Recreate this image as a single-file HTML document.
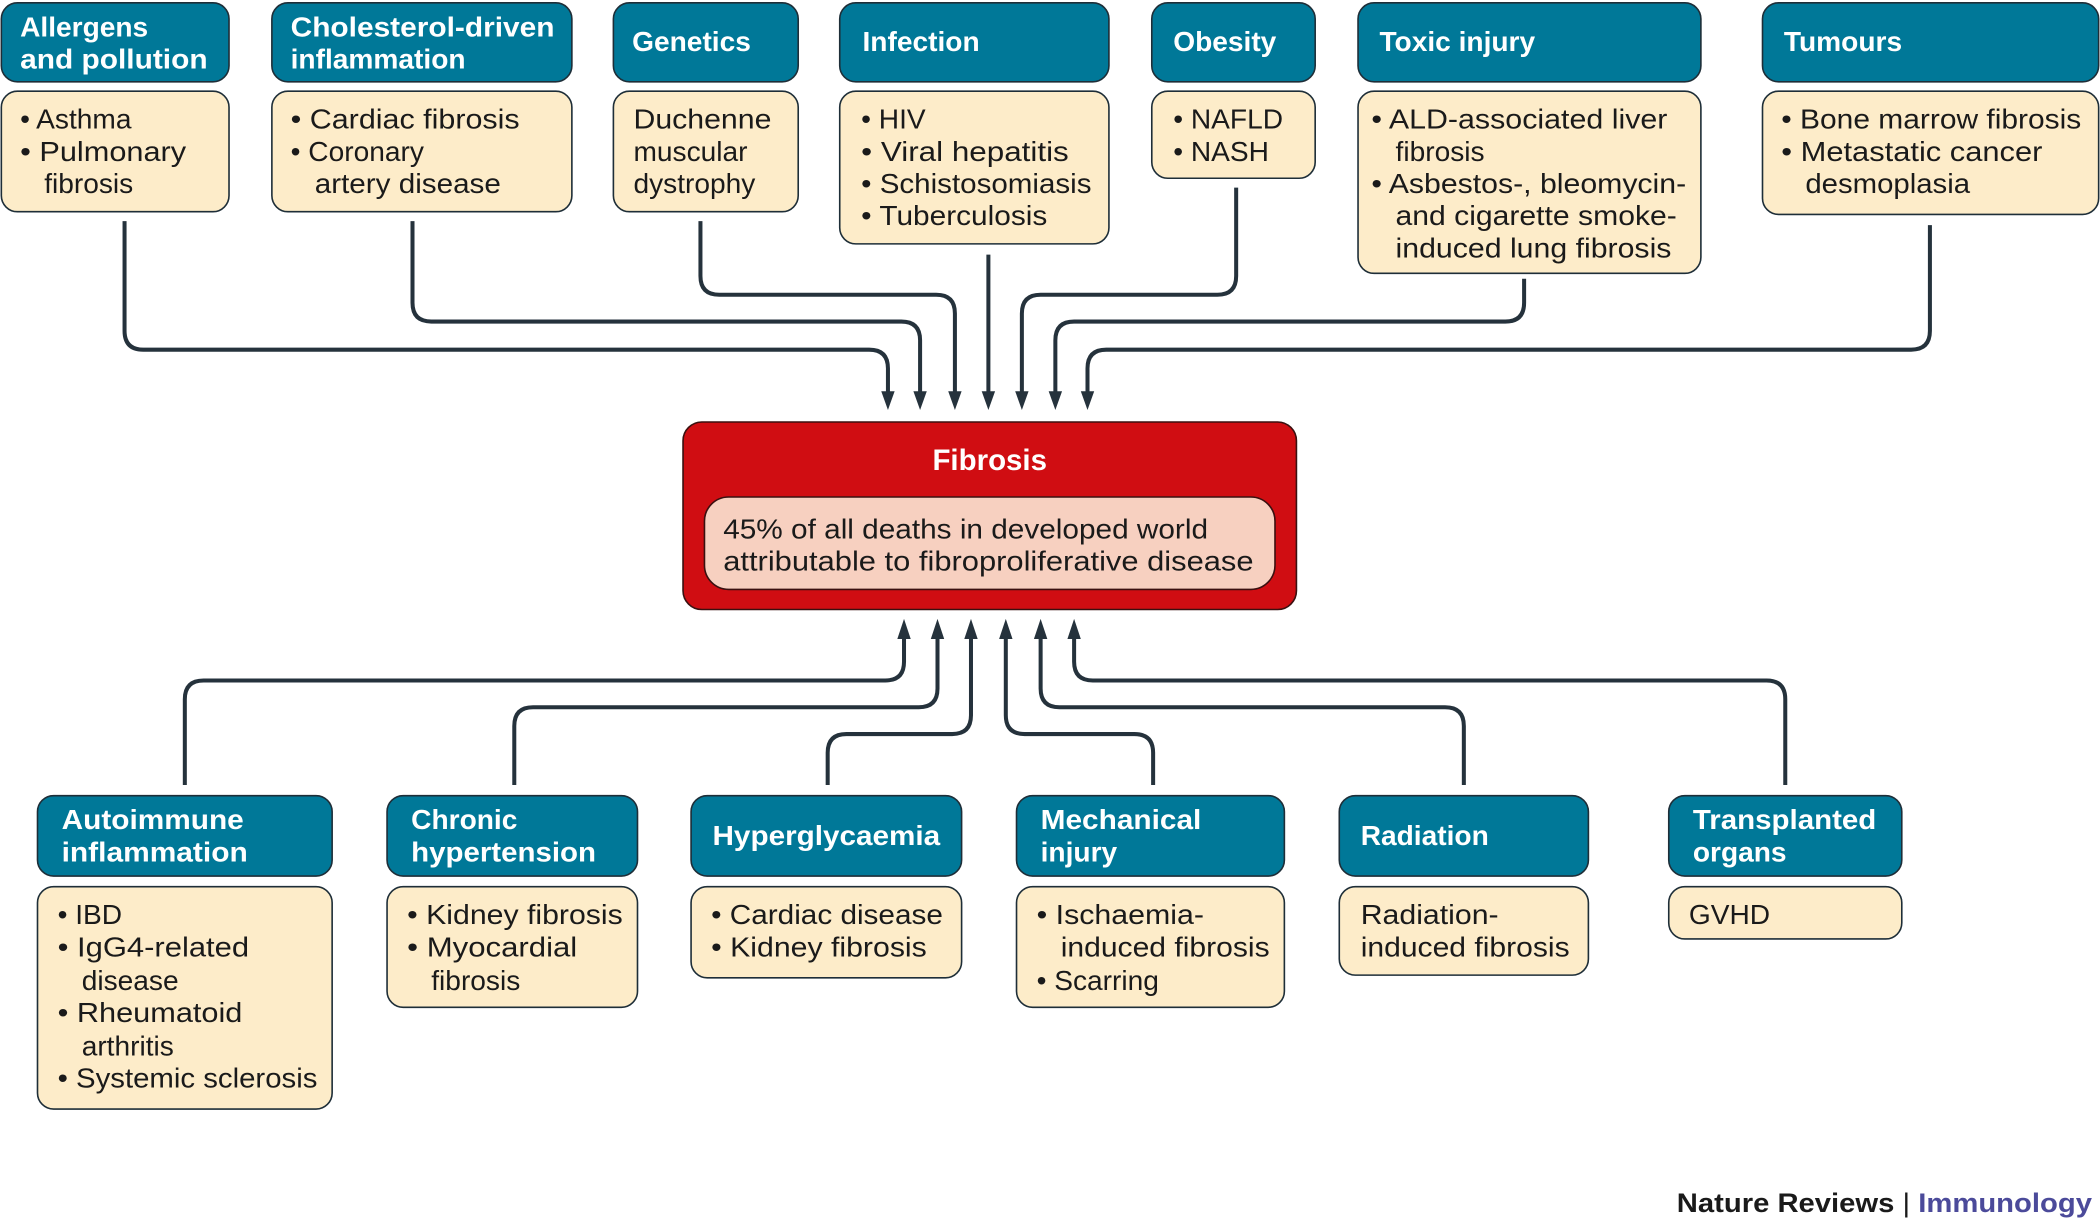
<!DOCTYPE html>
<html><head><meta charset="utf-8"><style>
html,body{margin:0;padding:0;background:#fff;}
svg{display:block;}
.h{font-family:"Liberation Sans",sans-serif;font-weight:bold;font-size:21px;fill:#fff;}
.b{font-family:"Liberation Sans",sans-serif;font-size:21px;fill:#1a1a1a;}
.hd{fill:#007898;stroke:#1e2e38;stroke-width:1.2;}
.bd{fill:#fdecc9;stroke:#1e2e38;stroke-width:1.2;}
.ln{fill:none;stroke:#25323c;stroke-width:3;}
.ar{fill:#25323c;}
</style></head><body>
<svg width="2100" height="1219" viewBox="0 0 1568 910" xmlns="http://www.w3.org/2000/svg">
<path class="ln" d="M93 165 V247 Q93 261 107 261 H649 Q663 261 663 275 V294"/>
<path class="ln" d="M308 165 V226 Q308 240 322 240 H673 Q687 240 687 254 V294"/>
<path class="ln" d="M523 165 V206 Q523 220 537 220 H699 Q713 220 713 234 V294"/>
<path class="ln" d="M738 190 V294"/>
<path class="ln" d="M923 140 V206 Q923 220 909 220 H777 Q763 220 763 234 V294"/>
<path class="ln" d="M1138 208 V226 Q1138 240 1124 240 H802 Q788 240 788 254 V294"/>
<path class="ln" d="M1441 168 V247 Q1441 261 1427 261 H826 Q812 261 812 275 V294"/>
<polygon class="ar" points="658,292 668,292 663,306"/>
<polygon class="ar" points="682,292 692,292 687,306"/>
<polygon class="ar" points="708,292 718,292 713,306"/>
<polygon class="ar" points="733,292 743,292 738,306"/>
<polygon class="ar" points="758,292 768,292 763,306"/>
<polygon class="ar" points="783,292 793,292 788,306"/>
<polygon class="ar" points="807,292 817,292 812,306"/>
<path class="ln" d="M138 586 V522 Q138 508 152 508 H661 Q675 508 675 494 V474"/>
<path class="ln" d="M384 586 V542 Q384 528 398 528 H686 Q700 528 700 514 V474"/>
<path class="ln" d="M618 586 V562 Q618 548 632 548 H711 Q725 548 725 534 V474"/>
<path class="ln" d="M861 586 V562 Q861 548 847 548 H765 Q751 548 751 534 V474"/>
<path class="ln" d="M1093 586 V542 Q1093 528 1079 528 H791 Q777 528 777 514 V474"/>
<path class="ln" d="M1333 586 V522 Q1333 508 1319 508 H816 Q802 508 802 494 V474"/>
<polygon class="ar" points="670,477 680,477 675,462"/>
<polygon class="ar" points="695,477 705,477 700,462"/>
<polygon class="ar" points="720,477 730,477 725,462"/>
<polygon class="ar" points="746,477 756,477 751,462"/>
<polygon class="ar" points="772,477 782,477 777,462"/>
<polygon class="ar" points="797,477 807,477 802,462"/>
<rect x="510" y="315" width="458" height="140" rx="14" fill="#d00d12" stroke="#3a1010" stroke-width="1.2"/>
<text class="h" x="739" y="351" text-anchor="middle" style="font-size:22px">Fibrosis</text>
<rect x="526" y="371" width="426" height="69" rx="18" fill="#f7d0c0" stroke="#3a1010" stroke-width="1.2"/>
<text class="b" x="540" y="402" textLength="362" lengthAdjust="spacingAndGlyphs">45% of all deaths in developed world</text>
<text class="b" x="540" y="426" textLength="396" lengthAdjust="spacingAndGlyphs">attributable to fibroproliferative disease</text>

<rect class="hd" x="1" y="2" width="170" height="59" rx="12"/>
<text class="h" x="15" y="27">Allergens</text>
<text class="h" x="15" y="51" textLength="140" lengthAdjust="spacingAndGlyphs">and pollution</text>
<rect class="bd" x="1" y="68" width="170" height="90" rx="12"/>
<text class="b" x="15" y="96">• Asthma</text>
<text class="b" x="15" y="120" textLength="124" lengthAdjust="spacingAndGlyphs">• Pulmonary</text>
<text class="b" x="33" y="144">fibrosis</text>
<rect class="hd" x="203" y="2" width="224" height="59" rx="12"/>
<text class="h" x="217" y="27" textLength="197" lengthAdjust="spacingAndGlyphs">Cholesterol-driven</text>
<text class="h" x="217" y="51">inflammation</text>
<rect class="bd" x="203" y="68" width="224" height="90" rx="12"/>
<text class="b" x="217" y="96" textLength="171" lengthAdjust="spacingAndGlyphs">• Cardiac fibrosis</text>
<text class="b" x="217" y="120">• Coronary</text>
<text class="b" x="235" y="144" textLength="139" lengthAdjust="spacingAndGlyphs">artery disease</text>
<rect class="hd" x="458" y="2" width="138" height="59" rx="12"/>
<text class="h" x="472" y="38">Genetics</text>
<rect class="bd" x="458" y="68" width="138" height="90" rx="12"/>
<text class="b" x="473" y="96" textLength="103" lengthAdjust="spacingAndGlyphs">Duchenne</text>
<text class="b" x="473" y="120">muscular</text>
<text class="b" x="473" y="144">dystrophy</text>
<rect class="hd" x="627" y="2" width="201" height="59" rx="12"/>
<text class="h" x="644" y="38">Infection</text>
<rect class="bd" x="627" y="68" width="201" height="114" rx="12"/>
<text class="b" x="643" y="96">• HIV</text>
<text class="b" x="643" y="120" textLength="155" lengthAdjust="spacingAndGlyphs">• Viral hepatitis</text>
<text class="b" x="643" y="144" textLength="172" lengthAdjust="spacingAndGlyphs">• Schistosomiasis</text>
<text class="b" x="643" y="168" textLength="139" lengthAdjust="spacingAndGlyphs">• Tuberculosis</text>
<rect class="hd" x="860" y="2" width="122" height="59" rx="12"/>
<text class="h" x="876" y="38">Obesity</text>
<rect class="bd" x="860" y="68" width="122" height="65" rx="12"/>
<text class="b" x="876" y="96">• NAFLD</text>
<text class="b" x="876" y="120">• NASH</text>
<rect class="hd" x="1014" y="2" width="256" height="59" rx="12"/>
<text class="h" x="1030" y="38">Toxic injury</text>
<rect class="bd" x="1014" y="68" width="256" height="136" rx="12"/>
<text class="b" x="1024" y="96" textLength="221" lengthAdjust="spacingAndGlyphs">• ALD-associated liver</text>
<text class="b" x="1042" y="120">fibrosis</text>
<text class="b" x="1024" y="144" textLength="235" lengthAdjust="spacingAndGlyphs">• Asbestos-, bleomycin-</text>
<text class="b" x="1042" y="168" textLength="210" lengthAdjust="spacingAndGlyphs">and cigarette smoke-</text>
<text class="b" x="1042" y="192" textLength="206" lengthAdjust="spacingAndGlyphs">induced lung fibrosis</text>
<rect class="hd" x="1316" y="2" width="251" height="59" rx="12"/>
<text class="h" x="1332" y="38">Tumours</text>
<rect class="bd" x="1316" y="68" width="251" height="92" rx="12"/>
<text class="b" x="1330" y="96" textLength="224" lengthAdjust="spacingAndGlyphs">• Bone marrow fibrosis</text>
<text class="b" x="1330" y="120" textLength="195" lengthAdjust="spacingAndGlyphs">• Metastatic cancer</text>
<text class="b" x="1348" y="144" textLength="123" lengthAdjust="spacingAndGlyphs">desmoplasia</text>

<rect class="hd" x="28" y="594" width="220" height="60" rx="12"/>
<text class="h" x="46" y="619" textLength="136" lengthAdjust="spacingAndGlyphs">Autoimmune</text>
<text class="h" x="46" y="643" textLength="139" lengthAdjust="spacingAndGlyphs">inflammation</text>
<rect class="bd" x="28" y="662" width="220" height="166" rx="12"/>
<text class="b" x="43" y="690">• IBD</text>
<text class="b" x="43" y="714" textLength="143" lengthAdjust="spacingAndGlyphs">• IgG4-related</text>
<text class="b" x="61" y="739">disease</text>
<text class="b" x="43" y="763" textLength="138" lengthAdjust="spacingAndGlyphs">• Rheumatoid</text>
<text class="b" x="61" y="788">arthritis</text>
<text class="b" x="43" y="812" textLength="194" lengthAdjust="spacingAndGlyphs">• Systemic sclerosis</text>
<rect class="hd" x="289" y="594" width="187" height="60" rx="12"/>
<text class="h" x="307" y="619">Chronic</text>
<text class="h" x="307" y="643" textLength="138" lengthAdjust="spacingAndGlyphs">hypertension</text>
<rect class="bd" x="289" y="662" width="187" height="90" rx="12"/>
<text class="b" x="304" y="690" textLength="161" lengthAdjust="spacingAndGlyphs">• Kidney fibrosis</text>
<text class="b" x="304" y="714" textLength="127" lengthAdjust="spacingAndGlyphs">• Myocardial</text>
<text class="b" x="322" y="739">fibrosis</text>
<rect class="hd" x="516" y="594" width="202" height="60" rx="12"/>
<text class="h" x="532" y="631" textLength="170" lengthAdjust="spacingAndGlyphs">Hyperglycaemia</text>
<rect class="bd" x="516" y="662" width="202" height="68" rx="12"/>
<text class="b" x="531" y="690" textLength="173" lengthAdjust="spacingAndGlyphs">• Cardiac disease</text>
<text class="b" x="531" y="714" textLength="161" lengthAdjust="spacingAndGlyphs">• Kidney fibrosis</text>
<rect class="hd" x="759" y="594" width="200" height="60" rx="12"/>
<text class="h" x="777" y="619" textLength="120" lengthAdjust="spacingAndGlyphs">Mechanical</text>
<text class="h" x="777" y="643">injury</text>
<rect class="bd" x="759" y="662" width="200" height="90" rx="12"/>
<text class="b" x="774" y="690" textLength="125" lengthAdjust="spacingAndGlyphs">• Ischaemia-</text>
<text class="b" x="792" y="714" textLength="156" lengthAdjust="spacingAndGlyphs">induced fibrosis</text>
<text class="b" x="774" y="739">• Scarring</text>
<rect class="hd" x="1000" y="594" width="186" height="60" rx="12"/>
<text class="h" x="1016" y="631">Radiation</text>
<rect class="bd" x="1000" y="662" width="186" height="66" rx="12"/>
<text class="b" x="1016" y="690" textLength="103" lengthAdjust="spacingAndGlyphs">Radiation-</text>
<text class="b" x="1016" y="714" textLength="156" lengthAdjust="spacingAndGlyphs">induced fibrosis</text>
<rect class="hd" x="1246" y="594" width="174" height="60" rx="12"/>
<text class="h" x="1264" y="619" textLength="137" lengthAdjust="spacingAndGlyphs">Transplanted</text>
<text class="h" x="1264" y="643">organs</text>
<rect class="bd" x="1246" y="662" width="174" height="39" rx="12"/>
<text class="b" x="1261" y="690">GVHD</text>

<text x="1562" y="905" text-anchor="end" style="font-family:'Liberation Sans',sans-serif;font-weight:bold;font-size:20px;" textLength="310" lengthAdjust="spacingAndGlyphs"><tspan fill="#1a1a1a">Nature Reviews</tspan><tspan fill="#1a1a1a" font-weight="normal"> | </tspan><tspan fill="#4b4a9a">Immunology</tspan></text>
</svg>
</body></html>
